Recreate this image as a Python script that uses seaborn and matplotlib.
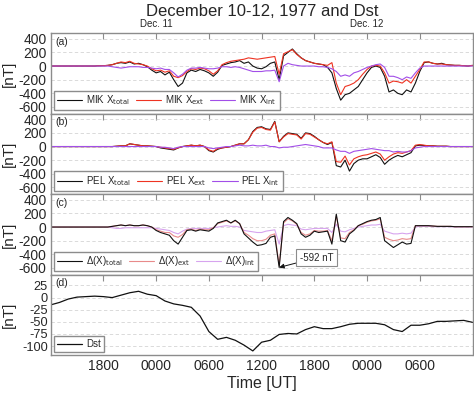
import numpy as np
import pandas as pd
import matplotlib
matplotlib.use("Agg")
import matplotlib.pyplot as plt
import matplotlib.dates as mdates
import seaborn as sns

# ---------------- data (30-min samples from 1977-12-10 12:00 UT) ----------------
start = "1977-12-10 12:00"

mik_total = [0,0,0,0,0,0,0,0,0,0,0,5,
             5,10,20,40,50,40,60,30,40,20,-10,-60,
             -100,-80,-130,-90,-200,-300,-250,-100,-60,-80,-50,-70,
             -100,-150,-90,10,30,50,60,80,40,60,0,-30,
             -40,-10,40,60,-200,150,200,250,180,120,80,60,
             40,30,20,-20,-100,-330,-500,-420,-400,-350,-300,-200,
             -100,-20,0,-20,-150,-380,-350,-400,-420,-350,-380,-250,
             -80,50,60,40,30,40,20,15,10,10,5,0,
             10]
mik_ext = [0,0,0,0,0,0,0,0,0,0,0,5,
           5,10,20,40,60,50,70,40,30,20,0,-40,
           -70,-60,-90,-70,-150,-170,-140,-80,-40,-50,-30,-40,
           -70,-120,-70,20,50,70,80,90,100,120,110,100,
           110,120,130,140,-120,180,210,240,170,120,80,60,
           40,30,20,10,50,-250,-420,-300,-280,-250,-200,-120,
           -50,0,10,0,-100,-250,-220,-230,-250,-200,-250,-150,
           -50,60,60,40,30,30,20,15,10,10,5,0,
           10]
mik_int = [0,0,0,0,0,0,0,0,0,0,0,0,
           0,0,-10,-20,-30,-20,-10,-10,-10,-20,-20,-30,
           -40,-30,-50,-50,-100,-160,-120,-60,-30,-30,-20,-30,
           -40,-40,-30,-10,-10,-20,-10,-20,-40,-60,-80,-80,
           -80,-70,-70,-60,-230,0,40,20,10,0,0,0,
           0,-10,-10,-20,-40,-80,-150,-130,-150,-100,-80,-50,
           -20,0,20,30,-20,-150,-150,-170,-200,-160,-180,-100,
           -30,0,0,0,0,0,0,0,0,0,0,0,
           0]

pel_total = [0,0,0,0,0,0,0,0,0,0,0,0,
             0,0,0,5,10,10,40,30,20,10,10,5,
             0,-20,-30,-40,-50,-20,0,10,20,10,20,0,
             -60,-80,-40,-20,-10,0,20,40,40,100,220,280,
             290,260,250,370,70,150,200,190,180,120,200,190,
             150,100,60,30,60,-280,-300,-200,-360,-250,-200,-180,
             -180,-150,-120,-160,-260,-200,-160,-130,-150,-120,-90,10,
             20,15,10,10,5,5,5,0,0,0,0,0,
             0]
pel_ext = [0,0,0,0,0,0,0,0,0,0,0,0,
           0,0,0,5,10,10,40,30,20,10,10,5,
           0,-10,-20,-30,-40,-20,0,10,20,10,20,0,
           -50,-70,-30,-20,-10,0,20,40,40,100,210,270,
           280,250,240,360,70,140,190,180,170,110,190,180,
           140,100,60,40,70,-220,-230,-140,-270,-180,-150,-130,
           -120,-100,-80,-110,-200,-150,-110,-90,-100,-80,-60,20,
           30,20,10,10,5,5,5,0,0,0,0,0,
           0]
pel_int = [0,0,0,0,0,0,0,0,0,0,0,0,
           0,0,0,0,0,0,0,0,0,0,0,0,
           0,-10,-10,-20,-30,-10,0,0,0,0,0,0,
           -20,-30,-20,-10,0,0,10,20,10,10,20,10,
           10,20,0,0,-20,-10,-10,0,10,20,30,20,
           10,0,-20,-20,-20,-50,-70,-70,-100,-70,-60,-50,
           -40,-30,-40,-50,-60,-60,-80,-70,-80,-80,-60,-20,
           -10,0,0,0,0,0,0,0,0,0,0,0,
           0]

d_total = [0,0,0,0,0,0,0,0,0,0,0,0,
           0,0,10,20,30,20,30,20,20,30,20,0,
           -50,-80,-100,-120,-200,-250,-150,-50,-40,-60,-40,-50,
           -60,-20,60,80,100,60,100,50,-100,-160,-220,-270,
           -260,-240,-150,-130,-592,80,140,100,50,-100,-150,-120,
           -60,-80,-70,-60,-250,190,-200,-220,-100,-50,20,50,
           80,100,110,140,-200,-250,-300,-260,-220,-250,-240,20,
           20,20,20,15,10,10,10,10,5,5,5,5,
           5]
d_ext = [0,0,0,0,0,0,0,0,0,0,0,0,
         0,0,10,20,30,20,30,20,20,30,20,0,
         -40,-60,-80,-80,-130,-150,-110,-40,-30,-50,-30,-40,
         -40,-10,50,70,90,60,90,50,-80,-120,-170,-200,
         -200,-180,-120,-100,-560,60,120,90,40,-80,-120,-100,
         -50,-60,-60,-50,-200,160,-160,-170,-80,-40,20,40,
         70,90,100,120,-150,-180,-200,-190,-170,-180,-170,20,
         20,20,20,15,10,10,10,10,5,5,5,5,
         5]
d_int = [0,0,0,0,0,0,0,0,0,0,0,0,
         0,0,-10,-20,-20,-10,-10,-10,-10,-10,-10,-10,
         -20,-30,-40,-50,-80,-100,-60,-30,-20,-20,-20,-20,
         -20,-10,0,10,20,10,10,0,-50,-60,-70,-80,
         -80,-60,-50,-40,-250,20,40,30,20,-30,-40,-30,
         -20,-20,-20,-20,-80,40,-60,-70,-40,-20,0,10,
         20,30,30,40,-60,-80,-100,-100,-90,-100,-90,0,
         10,10,10,5,5,5,5,5,0,0,0,0,
         0]

# hourly Dst from 1977-12-10 12:00 UT
dst = [-15,-10,-3,1,2,3,2,0,5,10,13,7,4,-7,-13,-16,-20,-38,-70,-86,-82,-88,-98,-110,
       -92,-88,-76,-74,-75,-66,-60,-64,-64,-60,-55,-53,-53,-53,-56,-66,-70,-57,-57,-54,
       -49,-49,-48,-47,-51]

xtick_times = ["1977-12-10 18:00", "1977-12-11 00:00", "1977-12-11 06:00", "1977-12-11 12:00",
               "1977-12-11 18:00", "1977-12-12 00:00", "1977-12-12 06:00"]
xtick_labels = ["1800", "0000", "0600", "1200", "1800", "0000", "0600"]
top_tick_times = ["1977-12-11 00:00", "1977-12-12 00:00"]
top_tick_labels = ["Dec. 11", "Dec. 12"]
yticks_x = [-600, -400, -200, 0, 200, 400]
yticks_dst = [-100, -75, -50, -25, 0, 25]

# ---------------- plotting ----------------
sns.set_style("white")
plt.rcParams["font.family"] = ["Liberation Sans", "DejaVu Sans"]

t30 = pd.date_range(start, periods=len(mik_total), freq="30min")
t60 = pd.date_range(start, periods=len(dst), freq="h")
xlim = (pd.Timestamp("1977-12-10 12:00"), pd.Timestamp("1977-12-12 12:00"))

W, H = 474, 396
fig = plt.figure(figsize=(W / 100, H / 100), dpi=100)
left = 50.7 / W
width = 1 - left - 1.5 / W
tops = [33.3, 113.8, 194.3, 274.8]
ph = 80.5
axes = []
for tp in tops:
    ax = fig.add_axes([left, 1 - (tp + ph) / H, width, ph / H])
    axes.append(ax)

BLACK = "#111111"
RED = "#ee3322"
PURPLE = "#a24ee8"
LRED = "#e88a8a"
LPURPLE = "#d7a4ee"
GRAY = "#8c8c8c"

panels = [
    (axes[0], [(mik_total, BLACK, r"MIK X$_{\rm total}$"),
               (mik_ext, RED, r"MIK X$_{\rm ext}$"),
               (mik_int, PURPLE, r"MIK X$_{\rm int}$")], "(a)"),
    (axes[1], [(pel_total, BLACK, r"PEL X$_{\rm total}$"),
               (pel_ext, RED, r"PEL X$_{\rm ext}$"),
               (pel_int, PURPLE, r"PEL X$_{\rm int}$")], "(b)"),
    (axes[2], [(d_int, LPURPLE, r"Δ(X)$_{\rm int}$"),
               (d_ext, LRED, r"Δ(X)$_{\rm ext}$"),
               (d_total, BLACK, r"Δ(X)$_{\rm total}$")], "(c)"),
]

for ax, series, tag in panels:
    for vals, col, lab in series:
        sns.lineplot(x=t30, y=vals, ax=ax, color=col, lw=0.8, label=lab, estimator=None)
    ax.set_ylim(-700, 480)
    ax.set_yticks(yticks_x)
    ax.set_yticklabels([str(v) for v in yticks_x])
    h, l = ax.get_legend_handles_labels()
    if tag == "(c)":
        h, l = h[::-1], l[::-1]
    ax.legend(h, l, loc="lower left", ncol=3, fontsize=7, frameon=True, fancybox=False,
              edgecolor=GRAY, framealpha=1, handlelength=2.6, handletextpad=0.4,
              columnspacing=0.6, borderaxespad=0.35, borderpad=0.3)
    ax.text(0.012, 0.86, tag, transform=ax.transAxes, fontsize=7.5)

sns.lineplot(x=t60, y=dst, ax=axes[3], color=BLACK, lw=0.9, label="Dst", estimator=None)
axes[3].set_ylim(-119, 47)
axes[3].set_yticks(yticks_dst)
axes[3].set_yticklabels([str(v) for v in yticks_dst])
axes[3].legend(loc="lower left", fontsize=7, frameon=True, fancybox=False, edgecolor=GRAY,
               framealpha=1, handlelength=2.6, handletextpad=0.4, borderaxespad=0.35,
               borderpad=0.3)
axes[3].text(0.012, 0.86, "(d)", transform=axes[3].transAxes, fontsize=7.5)

# annotation
axes[2].annotate("-592 nT", xy=(pd.Timestamp("1977-12-11 14:00"), -592),
                 xytext=(pd.Timestamp("1977-12-11 16:20"), -450),
                 fontsize=7, ha="left", va="center",
                 bbox=dict(boxstyle="square,pad=0.35", fc="white", ec=GRAY, lw=0.8),
                 arrowprops=dict(arrowstyle="-|>", color=BLACK, lw=0.7, mutation_scale=7,
                                 shrinkA=0, shrinkB=0))

xt = [pd.Timestamp(s) for s in xtick_times]
for i, ax in enumerate(axes):
    ax.set_xlim(*xlim)
    ax.set_xticks(xt)
    if i < 3:
        ax.set_xticklabels([])
    else:
        ax.set_xticklabels(xtick_labels)
    ax.set_xlabel("")
    ax.set_ylabel("[nT]", fontsize=11)
    ax.yaxis.set_label_coords(-0.083, 0.5)
    ax.tick_params(axis="both", direction="in", top=True, right=False, length=4,
                   color=GRAY, width=0.8, labelsize=10, pad=3)
    ax.tick_params(axis="y", length=2)
    for sp in ax.spines.values():
        sp.set_color(GRAY)
        sp.set_linewidth(1.0)
    ax.grid(axis="y", color="#d4d4d4", ls=(0, (4, 3)), lw=0.6)
    ax.grid(axis="x", visible=False)
    ax.set_axisbelow(True)

axes[3].tick_params(axis="y", labelsize=9.2, pad=2)
axes[3].set_xlabel("Time [UT]", fontsize=11.5, labelpad=2)

sec = axes[0].secondary_xaxis("top")
sec.set_xticks([pd.Timestamp(s) for s in top_tick_times])
sec.set_xticklabels(top_tick_labels, fontsize=7)
sec.tick_params(length=0, pad=3)
for sp in sec.spines.values():
    sp.set_visible(False)

fig.suptitle("December 10-12, 1977 and Dst", x=(left + 1) / 2, y=1 - 11 / H,
             fontsize=12, va="center")

fig.savefig("out.png", dpi=100)
